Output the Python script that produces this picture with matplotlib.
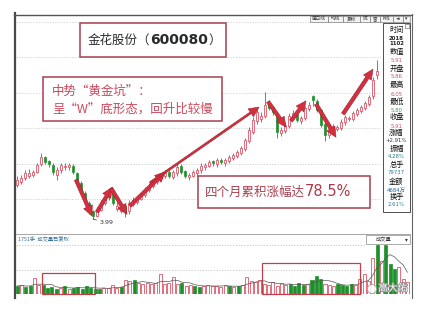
import numpy as np
import pandas as pd
import matplotlib
matplotlib.use("Agg")
import matplotlib.pyplot as plt
from matplotlib.patches import Rectangle, Circle
import matplotlib.patheffects as pe

plt.rcParams['font.family'] = ['Noto Sans CJK SC', 'DejaVu Sans']

# daily candles (price, yuan)
opens = [4.43, 4.47, 4.52, 4.55, 4.56, 4.60, 4.70, 4.79, 4.74, 4.69,
         4.56, 4.62, 4.66, 4.66, 4.68, 4.58, 4.46, 4.33, 4.20, 4.09,
         4.03, 4.11, 4.20, 4.27, 4.33, 4.12, 4.10, 4.16, 4.09, 4.19,
         4.21, 4.25, 4.30, 4.37, 4.42, 4.47, 4.52, 4.55, 4.60, 4.54,
         4.58, 4.68, 4.61, 4.53, 4.55, 4.58, 4.62, 4.66, 4.68, 4.74,
         4.70, 4.76, 4.71, 4.74, 4.78, 4.81, 4.85, 4.90, 5.00, 5.12,
         5.26, 5.28, 5.32, 5.48, 5.44, 5.36, 5.10, 5.13, 5.20, 5.32,
         5.35, 5.26, 5.30, 5.42, 5.58, 5.52, 5.40, 5.22, 5.08, 5.13,
         5.16, 5.17, 5.24, 5.29, 5.29, 5.35, 5.39, 5.43, 5.48, 5.58,
         5.86]
highs = [4.55, 4.56, 4.63, 4.64, 4.63, 4.72, 4.84, 4.81, 4.76, 4.71,
         4.66, 4.72, 4.71, 4.72, 4.70, 4.60, 4.48, 4.35, 4.22, 4.11,
         4.14, 4.23, 4.30, 4.38, 4.35, 4.21, 4.17, 4.18, 4.23, 4.27,
         4.28, 4.33, 4.40, 4.45, 4.50, 4.55, 4.59, 4.63, 4.62, 4.63,
         4.70, 4.70, 4.63, 4.59, 4.63, 4.65, 4.71, 4.72, 4.76, 4.76,
         4.78, 4.78, 4.78, 4.82, 4.85, 4.89, 4.94, 5.04, 5.18, 5.31,
         5.41, 5.37, 5.64, 5.50, 5.46, 5.38, 5.18, 5.24, 5.36, 5.40,
         5.38, 5.33, 5.46, 5.51, 5.60, 5.54, 5.41, 5.24, 5.17, 5.22,
         5.21, 5.28, 5.34, 5.33, 5.39, 5.43, 5.47, 5.52, 5.60, 5.83,
         6.05]
lows = [4.40, 4.44, 4.50, 4.52, 4.53, 4.58, 4.68, 4.70, 4.67, 4.56,
        4.50, 4.59, 4.63, 4.63, 4.57, 4.44, 4.31, 4.18, 4.05, 3.99,
        4.01, 4.09, 4.17, 4.24, 4.17, 4.10, 4.07, 4.02, 4.06, 4.16,
        4.19, 4.23, 4.28, 4.34, 4.39, 4.44, 4.49, 4.52, 4.52, 4.51,
        4.55, 4.57, 4.52, 4.50, 4.53, 4.55, 4.59, 4.63, 4.66, 4.68,
        4.67, 4.70, 4.68, 4.71, 4.75, 4.78, 4.82, 4.87, 4.97, 5.09,
        5.22, 5.25, 5.30, 5.40, 5.34, 5.04, 5.06, 5.10, 5.17, 5.29,
        5.24, 5.22, 5.27, 5.39, 5.45, 5.37, 5.18, 5.00, 5.04, 5.10,
        5.13, 5.14, 5.21, 5.26, 5.26, 5.32, 5.36, 5.40, 5.45, 5.55,
        5.80]
closes = [4.50, 4.52, 4.59, 4.58, 4.60, 4.69, 4.79, 4.73, 4.70, 4.60,
          4.62, 4.69, 4.68, 4.69, 4.60, 4.47, 4.34, 4.21, 4.08, 4.03,
          4.11, 4.20, 4.27, 4.34, 4.20, 4.16, 4.13, 4.08, 4.20, 4.24,
          4.25, 4.30, 4.37, 4.42, 4.47, 4.52, 4.56, 4.59, 4.55, 4.60,
          4.66, 4.60, 4.55, 4.56, 4.60, 4.62, 4.68, 4.69, 4.73, 4.71,
          4.75, 4.73, 4.75, 4.79, 4.82, 4.86, 4.91, 5.01, 5.14, 5.27,
          5.37, 5.33, 5.47, 5.43, 5.37, 5.12, 5.14, 5.21, 5.33, 5.36,
          5.27, 5.30, 5.43, 5.47, 5.53, 5.40, 5.21, 5.08, 5.14, 5.19,
          5.18, 5.25, 5.31, 5.30, 5.36, 5.40, 5.44, 5.49, 5.57, 5.79,
          5.91]

# volume (10k lots) and bar colour r=up g=down
volumes = [0.8, 0.9, 0.7, 0.8, 1.6, 0.9, 0.9, 0.6, 0.7, 0.5,
           0.6, 0.8, 0.5, 0.6, 0.7, 0.5, 0.8, 0.6, 0.5, 0.5,
           0.6, 0.6, 0.9, 0.6, 0.7, 1.4, 1.3, 1.4, 1.1, 1.0,
           1.1, 1.0, 1.1, 2.0, 1.0, 1.1, 1.7, 1.0, 1.1, 0.8,
           0.9, 0.8, 0.7, 0.8, 0.9, 0.8, 0.8, 0.7, 0.9, 0.8,
           0.7, 0.8, 0.9, 1.7, 1.3, 1.2, 1.4, 1.0, 0.9, 1.2,
           0.8, 1.1, 0.9, 1.0, 0.8, 1.1, 0.9, 1.0, 1.4, 1.8,
           1.5, 1.0, 0.9, 0.8, 1.0, 0.9, 0.8, 1.0, 0.9, 1.5,
           2.0, 1.3, 3.6, 4.9, 3.3, 4.9, 3.0, 2.5, 2.7, 1.5,
           1.2]
vol_dir = ("grggrrgggg" "rgrggggggg" "rrrrgrrgrr" "rrrrrrrrgr" "rggrrrrrrg"
           "rgrrrrrrrr" "rrrggggrgg" "grrrggggrr" "rrrgrgggrr" "r")

# right info panel
panel_labels = ["时间", "数值", "开盘", "最高", "最低", "收盘", "涨幅", "振幅", "总手", "金额", "换手"]
panel_values = ["2018\n1102", "5.91", "5.86", "6.05", "5.80", "5.91", "+2.91%", "4.28%", "79737", "4684万", "2.61%"]
panel_colors = ["#222222", "#d0506a", "#d0506a", "#d0506a", "#3a9a5a", "#d0506a",
                "#333355", "#2a7a8a", "#2a7a8a", "#2060a0", "#2a7a8a"]

# trend arrows: (day index, price) start -> end
arrows = [((14.75, 4.50), (18.75, 4.03)),
          ((20.0, 4.08), (23.75, 4.40)),
          ((23.5, 4.39), (27.5, 4.05)),
          ((28.25, 4.16), (37.0, 4.60)),
          ((33.25, 4.46), (60.5, 5.44)),
          ((62.75, 5.51), (67.25, 5.18)),
          ((68.5, 5.26), (72.25, 5.52)),
          ((74.75, 5.48), (79.75, 5.05)),
          ((81.5, 5.35), (89.0, 5.93))]

# shrinking-volume windows marked on the volume panel: (first bar, last bar, top)
vol_boxes = [(5.8, 18.0, 2.1), (56.5, 79.0, 3.1)]

W, H = 426, 309
RED = '#d8344a'
GREEN = '#1f8f2a'
BOXC = '#a8404e'

fig = plt.figure(figsize=(W / 100, H / 100), dpi=100)
fig.patch.set_facecolor('white')


def frac(x0, y0, x1, y1):
    return [x0 / W, 1 - y1 / H, (x1 - x0) / W, (y1 - y0) / H]


base = fig.add_axes([0, 0, 1, 1])
base.set_xlim(0, W)
base.set_ylim(H, 0)
base.axis('off')
base.plot([15, 15], [13, 298], color='#4a4a4a', lw=1.6)
base.plot([14, 412], [14.5, 14.5], color='#555555', lw=1.0)
base.plot([412, 412], [14, 298], color='#666666', lw=0.8)
base.plot([16, 410], [234, 234], color='#999999', lw=0.6)
for yy in (245, 270):
    base.plot([16, 366], [yy, yy], color='#bbbbbb', lw=0.5, ls=(0, (2, 2)))

# price panel
o = np.array(opens)
h = np.array(highs)
l = np.array(lows)
c = np.array(closes)
idx = np.arange(len(c))
up = c >= o
col = np.where(up, RED, GREEN)

pax = fig.add_axes(frac(16, 15, 381, 234))
pax.set_facecolor('none')
pax.axis('off')
pax.set_xlim(-0.25, 91.0)
pax.set_ylim(3.796, 6.632)
for g in np.linspace(4.25, 6.54, 6):
    pax.axhline(g, color='#c8c8c8', lw=0.5, ls=(0, (2, 2)), zorder=0)
bhi = np.maximum(o, c)
blo = np.minimum(o, c)
pax.vlines(idx, bhi, h, colors=col, lw=0.6, zorder=2)
pax.vlines(idx, l, blo, colors=col, lw=0.6, zorder=2)
pax.bar(idx, np.maximum(bhi - blo, 0.012), bottom=blo, width=0.7,
        color=np.where(up, 'white', GREEN), edgecolor=col, linewidth=0.5, zorder=3)

imin = int(np.argmin(l))
pax.annotate("3.99", xy=(imin, l[imin]), xytext=(imin + 1.6, l[imin] - 0.05),
             fontsize=4.5, color='#333333', va='center', family='DejaVu Sans',
             arrowprops=dict(arrowstyle='-', color='#333333', lw=0.5, shrinkA=0, shrinkB=0))

for i, (s, e) in enumerate(arrows):
    tw = 0.18 if i == 4 else 0.32
    pax.annotate('', xy=e, xytext=s, annotation_clip=False, zorder=5,
                 arrowprops=dict(arrowstyle=f'simple,head_length=0.9,head_width=0.85,tail_width={tw}',
                                 mutation_scale=8, facecolor='#d2303f', edgecolor='#a01c2c',
                                 lw=0.4, shrinkA=0, shrinkB=0))

# volume panel
vax = fig.add_axes(frac(16, 244, 410, 294))
vax.set_facecolor('none')
vax.axis('off')
vax.set_xlim(-0.25, 90.6)
vax.set_ylim(0, 5.0)
vup = np.array([ch == 'r' for ch in vol_dir])
vax.bar(idx, volumes, width=0.7, color=np.where(vup, 'white', GREEN),
        edgecolor=np.where(vup, RED, GREEN), linewidth=0.5)
ma = pd.Series(volumes).rolling(5, min_periods=1).mean()
vax.plot(idx, ma, color='#555555', lw=0.5)
for a, b, top in vol_boxes:
    vax.add_patch(Rectangle((a, 0), b - a, top, facecolor='none', edgecolor='#c0404a',
                            lw=0.9, zorder=4, clip_on=False))

# overlay: boxes, labels, panel
ov = fig.add_axes([0, 0, 1, 1])
ov.set_facecolor('none')
ov.set_xlim(0, W)
ov.set_ylim(H, 0)
ov.axis('off')

ov.add_patch(Rectangle((80, 23), 146, 34, facecolor='white', edgecolor=BOXC, lw=1.1))
t1 = ov.text(88, 40.5, "金花股份（", fontsize=9, color='#2a2a2a', va='center', ha='left')
t2 = ov.annotate("600080", xy=(1, 0.5), xycoords=t1, va='center', ha='left',
                 fontsize=10, color='#2a2a2a', fontweight='bold', family='DejaVu Sans')
ov.annotate("）", xy=(1, 0.5), xycoords=t2, va='center', ha='left', fontsize=9, color='#2a2a2a')

ov.add_patch(Rectangle((43, 77), 179, 44, facecolor='white', edgecolor=BOXC, lw=1.1))
ov.text(52, 91, "中势“黄金坑”：", fontsize=9, color='#c9485a', va='center', ha='left')
ov.text(52, 109, "呈“W”底形态，回升比较慢", fontsize=9, color='#c9485a', va='center', ha='left')

ov.add_patch(Rectangle((198, 176), 172, 32, facecolor='white', edgecolor=BOXC, lw=1.1))
t3 = ov.text(205, 192, "四个月累积涨幅达", fontsize=9, color='#a84050', va='center', ha='left')
ov.annotate("78.5%", xy=(1, 0.5), xycoords=t3, va='center', ha='left',
            fontsize=10.5, color='#b03848', family='DejaVu Sans')

# toolbar
btn_edges = [310, 328, 343, 360, 370, 380, 393, 403, 410]
btn_text = ["周日线", "均线", "复权", "统", "窗", "K线", "◄", "▾"]
for x0, x1, t in zip(btn_edges[:-1], btn_edges[1:], btn_text):
    ov.add_patch(Rectangle((x0, 15.5), x1 - x0, 6.5, facecolor='#f2f2f2', edgecolor='#666666', lw=0.4))
    ov.text((x0 + x1) / 2, 18.8, t, fontsize=3.3, color='#333333', ha='center', va='center')

# info panel
ov.add_patch(Rectangle((383, 22.5), 27, 189.5, facecolor='white', edgecolor='#333333', lw=0.6))
ov.add_patch(Rectangle((405, 23.5), 4, 4, facecolor='white', edgecolor='#555555', lw=0.4))
lab_y = [30, 52, 69, 85, 102, 117, 133, 149, 165, 182, 197]
val_y = [41, 61, 77, 94, 110, 126, 141, 157, 173, 190, 205]
for lab, val, vc, ly, vy in zip(panel_labels, panel_values, panel_colors, lab_y, val_y):
    ov.text(396.5, ly, lab, fontsize=5.2, color='#111111', ha='center', va='center')
    bold = 'bold' if '\n' in val else 'normal'
    ov.text(396.5, vy, val, fontsize=3.9, color=vc, ha='center', va='center',
            fontweight=bold, linespacing=0.95, family=['DejaVu Sans', 'Noto Sans CJK SC'])

# volume header
ov.text(18, 240, "1751手  成交量已复权", fontsize=3.8, color='#3070a0', ha='left', va='center')
ov.add_patch(Rectangle((366, 235), 44, 8.5, facecolor='white', edgecolor='#888888', lw=0.5))
ov.text(384, 239.3, "成交量", fontsize=3.8, color='#333333', ha='center', va='center')
ov.text(406, 239.3, "▾", fontsize=4, color='#333333', ha='center', va='center', family='DejaVu Sans')

# watermark
ov.add_patch(Circle((372, 289), 4.5, facecolor='white', edgecolor='#999999', lw=0.6, alpha=0.9))
ov.text(393, 288, "高大佑", fontsize=7, color='white', ha='center', va='center',
        path_effects=[pe.withStroke(linewidth=1.2, foreground='#8a8a8a')])

fig.savefig("out.png", dpi=100, facecolor='white')
